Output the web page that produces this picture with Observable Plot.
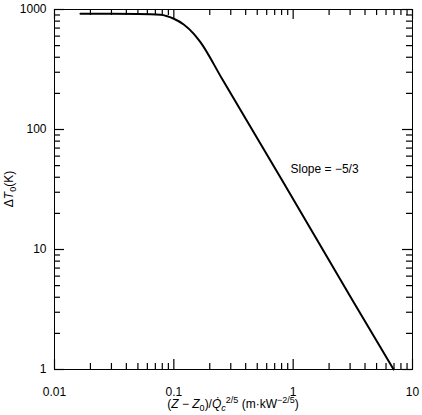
<!DOCTYPE html>
<html><head><meta charset="utf-8">
<script src="https://cdn.jsdelivr.net/npm/d3@7"></script>
<script src="https://cdn.jsdelivr.net/npm/@observablehq/plot@0.6"></script>
<style>body{margin:0;background:#fff}</style>
</head><body><div id="chart"></div>
<script>
// Data
const xValues = [0.0165, 0.03, 0.05, 0.0773, 0.100, 0.121, 0.147, 0.167, 0.255, 0.81, 3.15, 6.95];
const dTValues = [920, 920, 917, 905, 837, 750, 627, 534, 262, 37.6, 3.76, 1.0];
const xMajorTicks = [0.01, 0.1, 1, 10];
const yMajorTicks = [1, 10, 100, 1000];
const minorMultipliers = [2, 3, 4, 5, 6, 7, 8, 9];
const slopeX = [0.95];
const slopeY = [47];
const slopeText = ["Slope = \u22125/3"];

const W = 422, H = 415, mL = 54, mR = 10, mT = 9, mB = 46;
const innerW = W - mL - mR, innerH = H - mT - mB;
const xMinor = xMajorTicks.slice(0, -1).flatMap(d => minorMultipliers.map(m => d * m));
const yMinor = yMajorTicks.slice(0, -1).flatMap(d => minorMultipliers.map(m => d * m));
const data = xValues.map((x, i) => ({x, y: dTValues[i]}));
const labels = slopeX.map((x, i) => ({x, y: slopeY[i], text: slopeText[i]}));
const MAJ = 10, MIN = 6;
const tk = {stroke: "#000", strokeWidth: 1.2};

const plot = Plot.plot({
  width: W, height: H, marginLeft: mL, marginRight: mR, marginTop: mT, marginBottom: mB,
  style: {fontFamily: "'Liberation Sans', Arial, sans-serif", fontSize: "12px"},
  x: {type: "log", domain: [0.01, 10]},
  y: {type: "log", domain: [1, 1000]},
  marks: [
    Plot.frame({stroke: "#000"}),
    Plot.ruleX(xMajorTicks, {x: d => d, insetTop: innerH - MAJ, ...tk}),
    Plot.ruleX(xMinor, {x: d => d, insetTop: innerH - MIN, ...tk}),
    Plot.ruleX(xMajorTicks, {x: d => d, insetBottom: innerH - MAJ, ...tk}),
    Plot.ruleX(xMinor, {x: d => d, insetBottom: innerH - MIN, ...tk}),
    Plot.ruleY(yMajorTicks, {y: d => d, insetRight: innerW - MAJ, ...tk}),
    Plot.ruleY(yMinor, {y: d => d, insetRight: innerW - MIN, ...tk}),
    Plot.ruleY(yMajorTicks, {y: d => d, insetLeft: innerW - MAJ, ...tk}),
    Plot.ruleY(yMinor, {y: d => d, insetLeft: innerW - MIN, ...tk}),
    Plot.axisX(xMajorTicks, {tickSize: 0, tickPadding: 18, tickFormat: d => String(d), label: null}),
    Plot.axisY(yMajorTicks, {tickSize: 0, tickPadding: 8, tickFormat: d => String(d), label: null}),
    Plot.line(data, {x: "x", y: "y", stroke: "#000", strokeWidth: 2, curve: "monotone-x"}),
    Plot.text(labels, {x: "x", y: "y", text: "text", textAnchor: "start", fontSize: 12})
  ]
});
document.getElementById("chart").appendChild(plot);

const svg = d3.select(plot);
const font = "'Liberation Sans', Arial, sans-serif";
// x-axis title
const xt = svg.append("text").attr("x", 233).attr("y", 408).attr("text-anchor", "middle")
  .attr("font-family", font).attr("font-size", 12).attr("fill", "#000");
xt.append("tspan").text("(");
xt.append("tspan").attr("font-style", "italic").text("Z");
xt.append("tspan").text(" \u2212 ");
xt.append("tspan").attr("font-style", "italic").text("Z");
xt.append("tspan").attr("font-size", 9).attr("dy", 3).text("0");
xt.append("tspan").attr("dy", -3).text(")/");
xt.append("tspan").attr("font-style", "italic").text("Q\u0307");
xt.append("tspan").attr("font-size", 9).attr("font-style", "italic").attr("dy", 3).text("c");
xt.append("tspan").attr("font-size", 9).attr("dy", -8).text("2/5");
xt.append("tspan").attr("dy", 5).text(" (m\u00b7kW");
xt.append("tspan").attr("font-size", 9).attr("dy", -5).text("\u22122/5");
xt.append("tspan").attr("dy", 5).text(")");
// y-axis title
const yt = svg.append("text").attr("transform", "translate(13,189) rotate(-90)").attr("text-anchor", "middle")
  .attr("font-family", font).attr("font-size", 12).attr("fill", "#000");
yt.append("tspan").text("\u0394");
yt.append("tspan").attr("font-style", "italic").text("T");
yt.append("tspan").attr("font-size", 9).attr("dy", 3).text("0");
yt.append("tspan").attr("dy", -3).text("(K)");
</script>
</body></html>
